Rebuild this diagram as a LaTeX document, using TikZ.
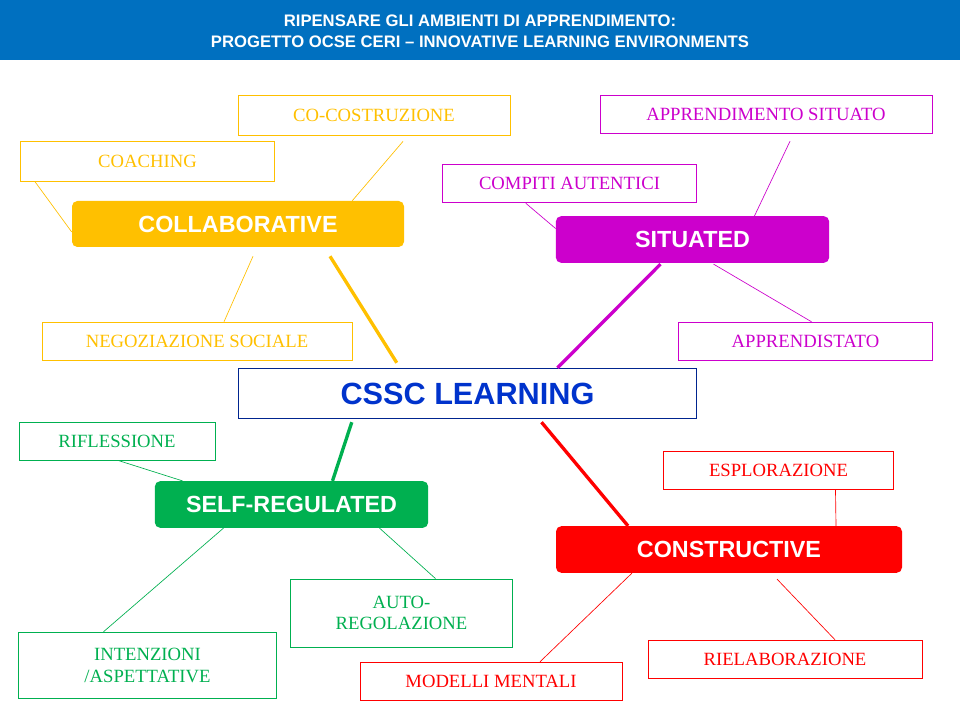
\documentclass[tikz,border=0pt]{standalone}
\usepackage{fontspec}
\setmainfont{Liberation Serif}
\setsansfont{Liberation Sans}
\usetikzlibrary{calc}
\begin{document}
\begin{tikzpicture}[x=0.75pt,y=-0.75pt]
\definecolor{hdr}{HTML}{0070C0}
\definecolor{yel}{HTML}{FFC000}
\definecolor{mag}{HTML}{CC00CC}
\definecolor{grn}{HTML}{00B050}
\definecolor{rd}{HTML}{FF0000}
\definecolor{cblue}{HTML}{0033CC}
\tikzset{
 sub/.style={draw, line width=0.6pt, inner sep=0pt, align=center, font=\fontsize{14}{16}\selectfont},
 mainbox/.style={rounded corners=4pt, inner sep=0pt, text=white, font=\sffamily\bfseries\fontsize{17.5}{20}\selectfont},
 thin/.style={line width=0.5pt},
 thick/.style={line width=2.5pt}
}
\useasboundingbox (0,0) rectangle (960,720);
\fill[white] (0,0) rectangle (960,720);
\fill[hdr] (0,0) rectangle (960,60);
\node[text=white, align=center, font=\sffamily\bfseries\fontsize{12.5}{16}\selectfont] (hd) at (480,31) {RIPENSARE GLI AMBIENTI DI APPRENDIMENTO:\\PROGETTO OCSE CERI -- INNOVATIVE LEARNING ENVIRONMENTS};

% yellow
\node[sub, draw=yel, text=yel, minimum width=204pt, minimum height=30pt] (cocos) at (374,115) {CO-COSTRUZIONE};
\node[sub, draw=yel, text=yel, minimum width=191pt, minimum height=30pt] (coach) at (147.5,161) {COACHING};
\node[mainbox, fill=yel, minimum width=249pt, minimum height=34.5pt] (collab) at (238,224) {COLLABORATIVE};
\node[sub, draw=yel, text=yel, minimum width=232.5pt, minimum height=29pt] (negoz) at (197,341.5) {NEGOZIAZIONE SOCIALE};
% magenta
\node[sub, draw=mag, text=mag, minimum width=249pt, minimum height=29pt] (apsit) at (766,114.5) {APPRENDIMENTO SITUATO};
\node[sub, draw=mag, text=mag, minimum width=191pt, minimum height=29pt] (compiti) at (569.5,183.5) {COMPITI AUTENTICI};
\node[mainbox, fill=mag, minimum width=205pt, minimum height=35pt] (situated) at (692.5,239.5) {SITUATED};
\node[sub, draw=mag, text=mag, minimum width=191pt, minimum height=29pt] (apprend) at (805.5,341.5) {APPRENDISTATO};
% center
\node[draw=cblue!70!black, line width=0.6pt, text=cblue, minimum width=344pt, minimum height=38pt, inner sep=0pt, font=\sffamily\bfseries\fontsize{23}{26}\selectfont] (cssc) at (467.5,393.5) {CSSC LEARNING};
% green
\node[sub, draw=grn, text=grn, minimum width=147pt, minimum height=28.5pt] (rifl) at (117,441) {RIFLESSIONE};
\node[mainbox, fill=grn, minimum width=205pt, minimum height=35pt] (self) at (291.5,504.5) {SELF-REGULATED};
\node[sub, draw=grn, text=grn, minimum width=166pt, minimum height=51pt] (auto) at (401.5,613) {AUTO-\\REGOLAZIONE};
\node[sub, draw=grn, text=grn, minimum width=193pt, minimum height=50pt] (intenz) at (147.5,665.5) {INTENZIONI\\/ASPETTATIVE};
% red
\node[sub, draw=rd, text=rd, minimum width=173pt, minimum height=29pt] (esplor) at (778.5,470.5) {ESPLORAZIONE};
\node[mainbox, fill=rd, minimum width=259.5pt, minimum height=35pt] (constr) at (729,549.5) {CONSTRUCTIVE};
\node[sub, draw=rd, text=rd, minimum width=205.5pt, minimum height=29pt] (riel) at (785,659.5) {RIELABORAZIONE};
\node[sub, draw=rd, text=rd, minimum width=196.5pt, minimum height=29pt] (mod) at (491,681.5) {MODELLI MENTALI};

% connectors
\draw[yel, thin] ($(coach.south west)+(15,0)$) -- ($(collab.west)+(0,8)$);
\draw[yel, thin] ($(cocos.south)+(29,6)$) -- ($(collab.north east)+(-52,0)$);
\draw[yel, thin] ($(negoz.north)+(27,0)$) -- ($(collab.south)+(15,9)$);
\draw[yel, thick] ($(collab.south)+(92,9)$) -- ($(cssc.north west)+(159,-5)$);
\draw[mag, thin] ($(compiti.south west)+(84,0)$) -- ($(situated.west)+(0,-11)$);
\draw[mag, thin] ($(apsit.south)+(24,7)$) -- ($(situated.north)+(62,0)$);
\draw[mag, thin] ($(apprend.north)+(6,0)$) -- ($(situated.south)+(21,1)$);
\draw[mag, thick] ($(situated.south)+(-32,1)$) -- ($(cssc.north)+(90,0)$);
\draw[grn, thin] ($(rifl.south)+(1,0)$) -- ($(self.north west)+(28,0)$);
\draw[grn, thick] ($(cssc.south west)+(114,3)$) -- ($(self.north)+(41,0)$);
\draw[grn, thin] ($(self.south)+(88,0)$) -- ($(auto.north)+(34,0)$);
\draw[grn, thin] ($(self.south)+(-68,0)$) -- ($(intenz.north)+(-44,0)$);
\draw[rd, thin] ($(esplor.south)+(57,0)$) -- ($(constr.north)+(107,0)$);
\draw[rd, thick] ($(cssc.south)+(74,3)$) -- ($(constr.north)+(-101,0)$);
\draw[rd, thin] ($(constr.south)+(-97,0)$) -- ($(mod.north)+(49,0)$);
\draw[rd, thin] ($(constr.south)+(48,6)$) -- ($(riel.north)+(50,0)$);
\end{tikzpicture}
\end{document}
